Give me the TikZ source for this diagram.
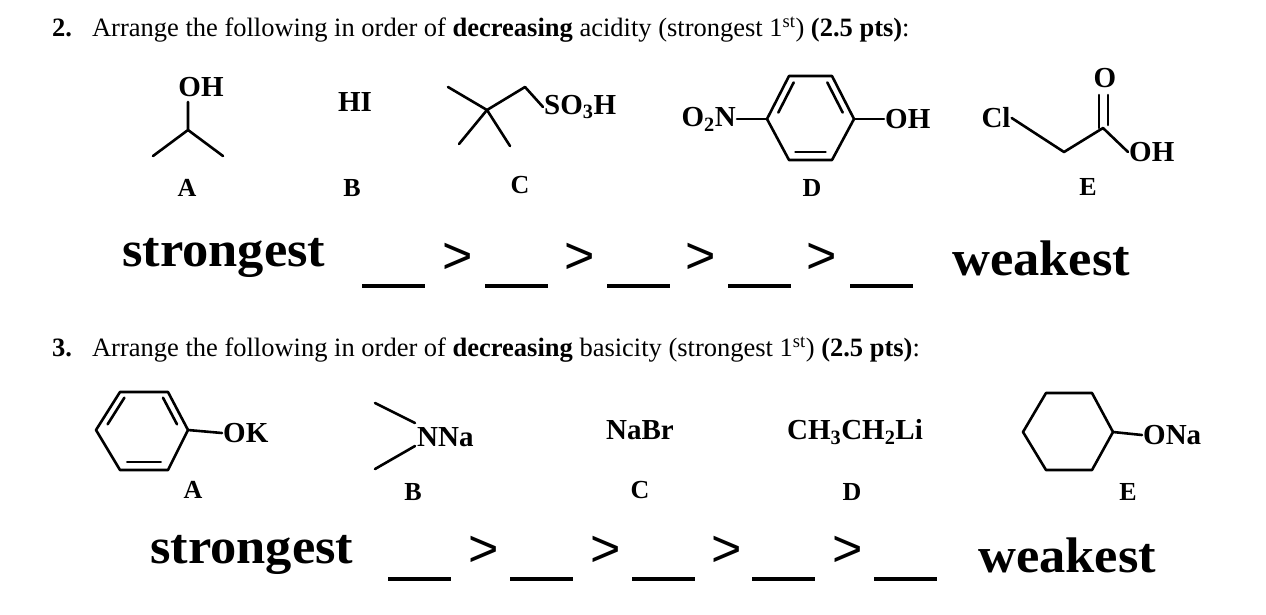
\documentclass[tikz,border=0pt]{standalone}
\usepackage{fontspec}
\setmainfont{Liberation Serif}
\newfontfamily\gtfont{Liberation Sans}
\usetikzlibrary{calc}
\begin{document}
\begin{tikzpicture}[x=1pt,y=-1pt,
  bond/.style={line width=2.6pt,line cap=round,line join=round},
  chem/.style={font=\fontsize{29}{32}\selectfont\bfseries,inner sep=1pt},
  lab/.style={font=\fontsize{26}{29}\selectfont\bfseries,inner sep=0pt},
  head/.style={font=\fontsize{26.5}{30}\selectfont,anchor=west,inner sep=0pt},
  big/.style={font=\fontsize{50}{54}\selectfont\bfseries,inner sep=0pt},
  gt/.style={font=\gtfont\fontsize{52}{56}\selectfont,inner sep=0pt},
  blank/.style={line width=3.2pt}]
\useasboundingbox (0,0) rectangle (1266,614);
% ---------- question 2
\node[head] (q2) at (52,30) {\textbf{2.}\hspace{20pt}Arrange the following in order of \textbf{decreasing} acidity (strongest 1\textsuperscript{st}) \textbf{(2.5 pts)}:};
% A
\node[chem] (aOH) at (201,87) {OH};
\coordinate (a0) at (188,130);
\coordinate (a1) at (153,156);
\coordinate (a2) at (223,156);
\draw[bond] (188,102) -- (a0) (a1) -- (a0) -- (a2);
\node[lab] (lA) at (187,188) {A};
% B
\node[chem] (bHI) at (355,102) {HI};
\node[lab] (lB) at (352,188) {B};
% C
\coordinate (c0) at (487,110);
\coordinate (c1) at (448,87);
\coordinate (c2) at (459,144);
\coordinate (c3) at (510,146);
\coordinate (c4) at (525,87);
\node[chem,anchor=west] (cS) at (543,107) {SO\textsubscript{3}H};
\draw[bond] (c1) -- (c0) -- (c2) (c0) -- (c3) (c0) -- (c4) -- (cS.west);
\node[lab] (lC) at (520,185) {C};
% D
\node[chem,anchor=east] (dN) at (737,119) {O\textsubscript{2}N};
\coordinate (d1) at (767,119);
\coordinate (d2) at (789,76);
\coordinate (d3) at (832,76);
\coordinate (d4) at (854,119);
\coordinate (d5) at (832,160);
\coordinate (d6) at (789,160);
\draw[bond] (d1)--(d2)--(d3)--(d4)--(d5)--(d6)--cycle;
\draw[bond] ($ (d1)!0.15!(d2) + (8,0) $) -- ($ (d1)!0.85!(d2) + (8,0) $);
\draw[bond] ($ (d3)!0.15!(d4) + (-8,0) $) -- ($ (d3)!0.85!(d4) + (-8,0) $);
\draw[bond] ($ (d5)!0.15!(d6) + (0,-8) $) -- ($ (d5)!0.85!(d6) + (0,-8) $);
\node[chem,anchor=west] (dOH) at (884,119) {OH};
\draw[bond] (dN.east) -- (d1) (d4) -- (dOH.west);
\node[lab] (lD) at (812,188) {D};
% E
\node[chem] (eCl) at (996,118) {Cl};
\coordinate (e1) at (1064,152);
\coordinate (e2) at (1103,128);
\node[chem] (eO) at (1105,78) {O};
\node[chem,anchor=west] (eOH) at (1128,152) {OH};
\draw[bond] (eCl.east) -- (e1) -- (e2) -- (eOH.west);
\draw[bond] (1099,128) -- (1099,95) (1108,125) -- (1108,95);
\node[lab] (lE) at (1088,187) {E};
% answer line 1
\node[big,anchor=west] (s1) at (122,258) {\scalebox{1.05}[1.0]{strongest}};
\node[big,anchor=west] (w1) at (952,258) {\scalebox{1.05}[1.0]{weakest}};
\foreach \x/\n in {362/u1,485/u2,607/u3,728/u4,850/u5}{\coordinate (\n) at (\x,286); \draw[blank] (\n) -- ++(63,0);}
\foreach \x/\n in {458/g1,580/g2,701/g3,822/g4}{\node[gt] (\n) at (\x,258) {>};}
% ---------- question 3
\node[head] (q3) at (52,350) {\textbf{3.}\hspace{20pt}Arrange the following in order of \textbf{decreasing} basicity (strongest 1\textsuperscript{st}) \textbf{(2.5 pts)}:};
% A
\coordinate (p1) at (96,430);
\coordinate (p2) at (120,392);
\coordinate (p3) at (168,392);
\coordinate (p4) at (188,430);
\coordinate (p5) at (168,470);
\coordinate (p6) at (120,470);
\draw[bond] (p1)--(p2)--(p3)--(p4)--(p5)--(p6)--cycle;
\draw[bond] ($ (p1)!0.15!(p2) + (8,0) $) -- ($ (p1)!0.85!(p2) + (8,0) $);
\draw[bond] ($ (p3)!0.15!(p4) + (-8,0) $) -- ($ (p3)!0.85!(p4) + (-8,0) $);
\draw[bond] ($ (p5)!0.15!(p6) + (0,-8) $) -- ($ (p5)!0.85!(p6) + (0,-8) $);
\node[chem,anchor=west] (pOK) at (222,433) {OK};
\draw[bond] (p4) -- (pOK.west);
\node[lab] (mA) at (193,490) {A};
% B
\node[chem,anchor=west] (nNa) at (416,437) {NNa};
\coordinate (n1) at (375,403);
\coordinate (n2) at (375,469);
\draw[bond] (n1) -- (415,423) (n2) -- (415,446);
\node[lab] (mB) at (413,492) {B};
% C
\node[chem] (nBr) at (640,430) {NaBr};
\node[lab] (mC) at (640,490) {C};
% D
\node[chem] (eLi) at (855,432) {CH\textsubscript{3}CH\textsubscript{2}Li};
\node[lab] (mD) at (852,492) {D};
% E
\coordinate (h1) at (1023,432);
\coordinate (h2) at (1046,393);
\coordinate (h3) at (1092,393);
\coordinate (h4) at (1113,432);
\coordinate (h5) at (1092,470);
\coordinate (h6) at (1046,470);
\draw[bond] (h1)--(h2)--(h3)--(h4)--(h5)--(h6)--cycle;
\node[chem,anchor=west] (hONa) at (1142,435) {ONa};
\draw[bond] (h4) -- (hONa.west);
\node[lab] (mE) at (1128,492) {E};
% answer line 2
\node[big,anchor=west] (s2) at (150,555) {\scalebox{1.05}[1.0]{strongest}};
\node[big,anchor=west] (w2) at (978,555) {\scalebox{1.05}[1.0]{weakest}};
\foreach \x/\n in {388/v1,510/v2,632/v3,752/v4,874/v5}{\coordinate (\n) at (\x,579); \draw[blank] (\n) -- ++(63,0);}
\foreach \x/\n in {484/k1,606/k2,727/k3,848/k4}{\node[gt] (\n) at (\x,551) {>};}
\end{tikzpicture}
\end{document}
